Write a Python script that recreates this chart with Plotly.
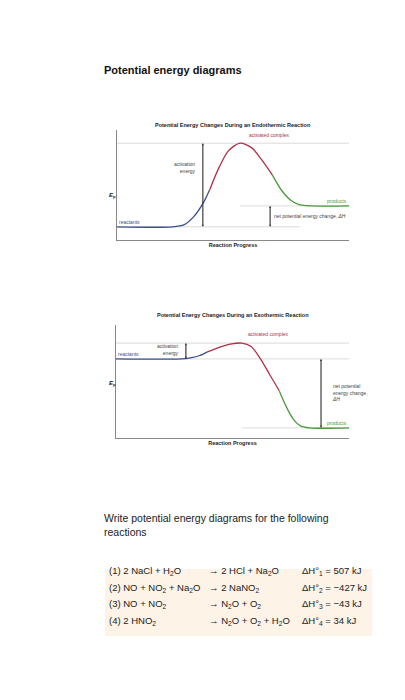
import plotly.graph_objects as go

# endothermic curve (progress 0-100, energy 0-100)
endo_blue_x = [0, 24, 29, 33, 37, 40]
endo_blue_y = [12, 12, 14, 21, 33, 46]
endo_red_x = [40, 44, 48, 53, 58, 62, 67]
endo_red_y = [46, 66, 81, 88, 84, 74, 59]
endo_green_x = [67, 71, 75, 79, 84, 100]
endo_green_y = [59, 45, 36, 32, 31, 31]
endo_levels = {"reactants": 12, "peak": 88, "products": 31}

# exothermic curve
exo_blue_x = [0, 28, 32, 36, 39]
exo_blue_y = [70, 70, 71, 73, 76]
exo_red_x = [39, 44, 49, 54, 58, 62, 66, 70]
exo_red_y = [76, 80, 83, 84, 81, 70, 56, 42]
exo_green_x = [70, 73, 76, 79, 83, 100]
exo_green_y = [42, 28, 17, 11, 9, 9]
exo_levels = {"reactants": 70, "peak": 84, "products": 9}

reactions = [
    ("(1) 2 NaCl + H<sub>2</sub>O", "→ 2 HCl + Na<sub>2</sub>O", "ΔH°<sub>1</sub> = 507 kJ"),
    ("(2) NO + NO<sub>2</sub> + Na<sub>2</sub>O", "→ 2 NaNO<sub>2</sub>", "ΔH°<sub>2</sub> = −427 kJ"),
    ("(3) NO + NO<sub>2</sub>", "→ N<sub>2</sub>O + O<sub>2</sub>", "ΔH°<sub>3</sub> = −43 kJ"),
    ("(4) 2 HNO<sub>2</sub>", "→ N<sub>2</sub>O + O<sub>2</sub> + H<sub>2</sub>O", "ΔH°<sub>4</sub> = 34 kJ"),
]

BLUE, RED, GREEN, GRAY = "#3b4f8c", "#b03048", "#4a9a3c", "#cccccc"
FONT = "Liberation Sans, Arial"
W, H = 397, 692  # page body margin eats 8px


def px(x):
    return (x - 8) / W


def py(y):
    return 1 - (y - 8) / H


fig = go.Figure()


def add_curve(xa, ya, segs):
    for (x, y), c in zip(segs, [BLUE, RED, GREEN]):
        fig.add_trace(go.Scatter(x=x, y=y, mode="lines",
                                 line=dict(color=c, width=1.3, shape="spline", smoothing=0.8),
                                 xaxis=xa, yaxis=ya, hoverinfo="skip", showlegend=False))


add_curve("x", "y", [(endo_blue_x, endo_blue_y), (endo_red_x, endo_red_y), (endo_green_x, endo_green_y)])
add_curve("x2", "y2", [(exo_blue_x, exo_blue_y), (exo_red_x, exo_red_y), (exo_green_x, exo_green_y)])


def hline(xr, yr, x0, x1, y):
    fig.add_shape(type="line", xref=xr, yref=yr, x0=x0, x1=x1, y0=y, y1=y, line=dict(color=GRAY, width=0.7),
                  layer="below")


def arrow(xr, yr, x, y0, y1):
    for a, b in [(y0, y1), (y1, y0)]:
        fig.add_annotation(xref=xr, yref=yr, axref=xr, ayref=yr, x=x, y=b, ax=x, ay=a, text="",
                           showarrow=True, arrowhead=2, arrowsize=0.6, arrowwidth=0.7, arrowcolor="#333")


def label(xr, yr, x, y, text, color="#444", anchor="left", size=5):
    fig.add_annotation(xref=xr, yref=yr, x=x, y=y, text=text, showarrow=False, xanchor=anchor,
                       font=dict(size=size, color=color, family=FONT), align="right" if anchor == "right" else "left")


# endothermic decorations
L = endo_levels
hline("x", "y", 0, 100, L["peak"])
hline("x", "y", 0, 79, L["reactants"])
hline("x", "y", 53, 100, L["products"])
arrow("x", "y", 37, L["reactants"], L["peak"])
arrow("x", "y", 66, L["reactants"], L["products"])
label("x", "y", 56, 95, "activated complex", RED)
label("x", "y", 35, 66, "activation<br>energy", anchor="right")
label("x", "y", 0, 16, "reactants", BLUE)
label("x", "y", 100, 35, "products", GREEN, anchor="right")
label("x", "y", 67, 22, "net potential energy change, <i>ΔH</i>")

# exothermic decorations
L = exo_levels
hline("x2", "y2", 0, 100, L["peak"])
hline("x2", "y2", 0, 100, L["reactants"])
hline("x2", "y2", 54, 100, L["products"])
arrow("x2", "y2", 30, L["reactants"], L["peak"])
arrow("x2", "y2", 88, L["products"], L["reactants"])
label("x2", "y2", 56, 92, "activated complex", RED)
label("x2", "y2", 28, 78, "activation<br>energy", anchor="right")
label("x2", "y2", 0, 74, "reactants", BLUE)
label("x2", "y2", 100, 13, "products", GREEN, anchor="right")
label("x2", "y2", 92, 40, "net potential<br>energy change,<br><i>ΔH</i>")

axis_common = dict(showgrid=False, zeroline=False, showticklabels=False, ticks="",
                   showline=True, linecolor="#888", linewidth=1, range=[0, 100], fixedrange=True)
ttl = dict(text="<b>Reaction Progress</b>", font=dict(size=5.5, family=FONT, color="#222"), standoff=3)
fig.update_layout(
    width=W, height=H, margin=dict(l=0, r=0, t=0, b=0),
    paper_bgcolor="white", plot_bgcolor="white",
    xaxis=dict(axis_common, domain=[px(117), px(349)], title=ttl),
    yaxis=dict(axis_common, domain=[py(240), py(130)]),
    xaxis2=dict(axis_common, domain=[px(116), px(349)], anchor="y2", title=ttl),
    yaxis2=dict(axis_common, domain=[py(438), py(325)], anchor="x2"),
)

for y, t in [(120, "Potential Energy Changes During an Endothermic Reaction"),
             (315, "Potential Energy Changes During an Exothermic Reaction")]:
    fig.add_annotation(xref="paper", yref="paper", x=px(233), y=py(y), text="<b>" + t + "</b>", showarrow=False,
                       font=dict(size=5.5, family=FONT, color="#222"))
for y in [190, 384]:
    fig.add_annotation(xref="paper", yref="paper", x=px(107), y=py(y), text="<b><i>E</i><sub>p</sub></b>",
                       showarrow=False, font=dict(size=6, family=FONT, color="#222"))

fig.add_annotation(xref="paper", yref="paper", x=px(102), y=py(62), text="<b>Potential energy diagrams</b>",
                   showarrow=False, xanchor="left", font=dict(size=11, family=FONT, color="#111"))
fig.add_annotation(xref="paper", yref="paper", x=px(102), y=py(540),
                   text="Write potential energy diagrams for the following<br>reactions",
                   showarrow=False, xanchor="left", align="left", font=dict(size=10.5, family=FONT, color="#222"))

fig.add_shape(type="rect", xref="paper", yref="paper", x0=px(105), x1=px(372),
              y0=py(636), y1=py(569), fillcolor="#fdf3e6", line=dict(width=0), layer="below")
for i, (lhs, rhs, dh) in enumerate(reactions):
    y = py(579 + i * 16.5)
    for x, t in [(107, lhs), (207, rhs), (300, dh)]:
        fig.add_annotation(xref="paper", yref="paper", x=px(x), y=y, text=t, showarrow=False, xanchor="left",
                           font=dict(size=9.5, family=FONT, color="#222"))

fig.write_html("out.html")
